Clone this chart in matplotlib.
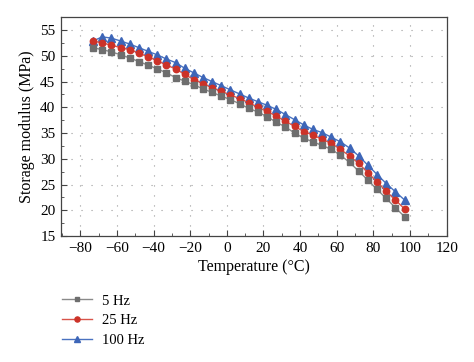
import matplotlib
matplotlib.use("Agg")
import matplotlib.pyplot as plt
from matplotlib.ticker import MultipleLocator

temps = [-73 + 5 * k for k in range(35)]

hz5 = [51.6, 51.2, 50.8, 50.2, 49.6, 48.9, 48.2, 47.5, 46.7, 45.8,
       45.1, 44.4, 43.6, 42.9, 42.2, 41.5, 40.7, 39.8, 39.1, 38.2,
       37.1, 36.2, 35.0, 34.0, 33.3, 32.6, 31.85, 30.7, 29.3, 27.6,
       25.85, 24.05, 22.3, 20.5, 18.75]
hz25 = [52.9, 52.5, 52.1, 51.6, 51.2, 50.55, 49.8, 49.1, 48.2, 47.5,
        46.4, 45.4, 44.6, 43.8, 43.1, 42.4, 41.7, 40.9, 40.0, 39.2,
        38.3, 37.3, 36.3, 35.3, 34.6, 33.8, 33.0, 31.85, 30.55, 29.1,
        27.3, 25.5, 23.7, 22.0, 20.25]
hz100 = [52.9, 53.7, 53.45, 52.9, 52.3, 51.6, 50.9, 50.2, 49.4, 48.7,
         47.6, 46.7, 45.8, 45.0, 44.2, 43.4, 42.6, 41.8, 41.1, 40.4,
         39.6, 38.6, 37.6, 36.6, 35.7, 35.1, 34.2, 33.3, 32.1, 30.55,
         28.75, 26.95, 25.2, 23.6, 22.0]

labels = ["5 Hz", "25 Hz", "100 Hz"]
xticks = [-80, -60, -40, -20, 0, 20, 40, 60, 80, 100, 120]
yticks = [15, 20, 25, 30, 35, 40, 45, 50, 55]

plt.rcParams['font.family'] = ['Liberation Serif', 'DejaVu Serif']

fig = plt.figure(figsize=(4.74, 3.62), dpi=100)
ax = fig.add_axes([61 / 474, 1 - 236 / 362, (446.7 - 61) / 474, (236 - 17.3) / 362])

series = [
    (hz100, '^', '#3d66b8', '#4a72c0', 5.2),
    (hz25, 'o', '#cc3228', '#d8544a', 4.6),
    (hz5, 's', '#6e6e6e', '#8a8a8a', 4.0),
]
handles = {}
for (vals, mk, mc, lc, ms), lab in zip(series, ["100 Hz", "25 Hz", "5 Hz"]):
    h, = ax.plot(temps, vals, color=lc, lw=1.0, marker=mk, ms=ms,
                 markerfacecolor=mc, markeredgecolor=mc, label=lab)
    handles[lab] = h

ax.set_xlim(-90.5, 120)
ax.set_ylim(15, 57.5)
ax.set_xticks(xticks)
ax.set_yticks(yticks)
ax.set_xticklabels([str(t).replace('-', '\u2212') for t in xticks])
ax.xaxis.set_minor_locator(MultipleLocator(10))
ax.yaxis.set_minor_locator(MultipleLocator(2.5))
ax.tick_params(which='both', direction='in', labelsize=11, color='#444444')
ax.tick_params(which='major', length=4, pad=4)
ax.tick_params(which='minor', length=2)
ax.grid(True, which='major', color='#9a9a9a', linestyle=(0, (1, 8)), lw=0.8)
for s in ax.spines.values():
    s.set_color('#444444')
    s.set_linewidth(0.9)

ax.set_xlabel("Temperature (°C)", fontsize=11.5, labelpad=3)
ax.set_ylabel("Storage modulus (MPa)", fontsize=11.5, labelpad=4)

fig.legend([handles[l] for l in labels], labels, loc='center left',
           bbox_to_anchor=(61.5 / 474, 1 - 320.7 / 362), frameon=False,
           fontsize=10.5, numpoints=1, handlelength=2.1, handletextpad=0.7,
           labelspacing=0.45, borderpad=0, borderaxespad=0, markerscale=0.8)

fig.savefig("out.png", dpi=100)
